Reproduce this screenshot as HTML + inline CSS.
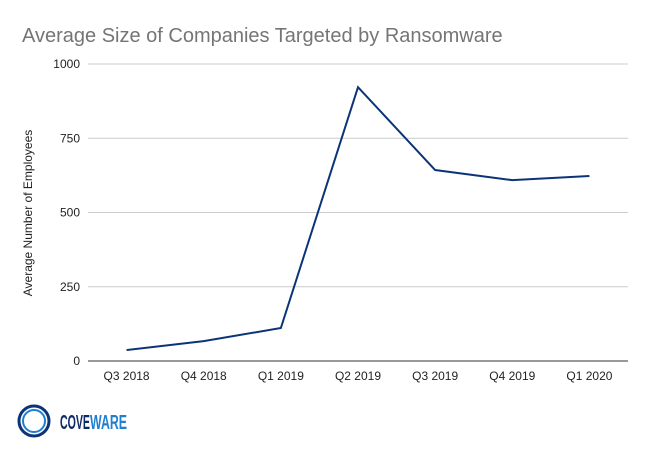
<!DOCTYPE html>
<html><head><meta charset="utf-8"><style>
body{margin:0;background:#fff;width:650px;height:448px;overflow:hidden;font-family:"Liberation Sans",sans-serif}
</style></head><body>
<svg width="650" height="448">
<text x="22" y="42" font-size="20" fill="#757575">Average Size of Companies Targeted by Ransomware</text>
<g id="grid"></g><g id="ticks"></g><g id="xlabels"></g>
<text transform="translate(32,213) rotate(-90)" text-anchor="middle" font-size="12" fill="#222">Average Number of Employees</text>
<path id="line" fill="none" stroke="#0b3478" stroke-width="2"/>
<g>
<circle cx="34" cy="421" r="15" fill="none" stroke="#0b3478" stroke-width="3"/>
<circle cx="34" cy="421" r="11" fill="none" stroke="#1c7fd0" stroke-width="2"/>
<text x="60" y="429" font-size="20" font-weight="bold" fill="#0b2a66" textLength="30" lengthAdjust="spacingAndGlyphs">COVE</text>
<text x="90" y="429" font-size="20" font-weight="bold" fill="#1f7fd1" textLength="37" lengthAdjust="spacingAndGlyphs">WARE</text>
</g>
</svg>
<script>
const categories=["Q3 2018","Q4 2018","Q1 2019","Q2 2019","Q3 2019","Q4 2019","Q1 2020"];
const values=[37,67,111,922,643,609,623];
const yTicks=[0,250,500,750,1000];
const L=88,R=628,T=64,B=361,ymax=1000;
const ns="http://www.w3.org/2000/svg";
const y=v=>B-(v/ymax)*(B-T);
const bw=(R-L)/categories.length;
const x=i=>L+bw*(i+0.5);
const g=document.getElementById('grid'),tk=document.getElementById('ticks'),xl=document.getElementById('xlabels');
yTicks.forEach(t=>{
 const l=document.createElementNS(ns,'line');
 
 
 l.setAttribute('x1',L);l.setAttribute('x2',R);l.setAttribute('y1',y(t));l.setAttribute('y2',y(t));
 l.setAttribute('stroke',t===0?'#333':'#ccc');l.setAttribute('stroke-width','1');
 g.appendChild(l);
 const s=document.createElementNS(ns,'text');
 
 
 s.setAttribute('x',L-8);s.setAttribute('y',y(t)+4);s.setAttribute('text-anchor','end');s.setAttribute('font-size','12');s.setAttribute('fill','#222');
 s.textContent=t;tk.appendChild(s);
});
categories.forEach((c,i)=>{
 const s=document.createElementNS(ns,'text');
 
 
 s.setAttribute('x',x(i));s.setAttribute('y',380);s.setAttribute('text-anchor','middle');s.setAttribute('font-size','12');s.setAttribute('fill','#222');
 s.textContent=c;xl.appendChild(s);
});
document.getElementById('line').setAttribute('d',values.map((v,i)=>(i?'L':'M')+x(i)+','+y(v)).join(' '));
</script>
</body></html>
